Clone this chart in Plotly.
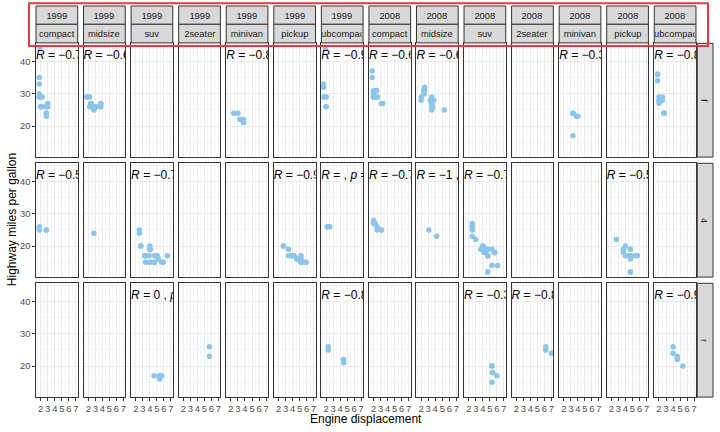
import plotly.graph_objects as go

# ---------------- data ----------------
col_years = ["1999"] * 7 + ["2008"] * 7
col_classes = ["compact", "midsize", "suv", "2seater", "minivan", "pickup", "subcompact"] * 2
row_drvs = ["f", "4", "r"]

facet_year = ["1999", "1999", "1999", "1999", "2008", "2008", "2008", "2008",
              "1999", "1999", "1999", "1999", "1999", "2008", "2008", "2008", "2008",
              "1999", "1999", "1999", "2008", "2008", "2008"]
facet_class = ["compact", "midsize", "minivan", "subcompact", "compact", "midsize", "minivan", "subcompact",
               "compact", "midsize", "suv", "pickup", "subcompact", "compact", "midsize", "suv", "pickup",
               "suv", "2seater", "subcompact", "suv", "2seater", "subcompact"]
facet_drv = ["f"] * 8 + ["4"] * 9 + ["r"] * 6

facet_displ = [
    [1.8, 1.8, 2.8, 2.8, 2.2, 2.2, 3.0, 3.0, 1.8, 1.8, 1.8, 2.0, 2.0, 2.8, 1.9, 2.0, 2.0, 2.8, 2.8],
    [1.8, 1.8, 2.2, 2.2, 2.4, 2.4, 2.4, 2.4, 2.5, 2.5, 2.8, 2.8, 3.0, 3.0, 3.0, 3.0, 3.1, 3.1, 3.8, 3.8],
    [2.4, 3.0, 3.3, 3.3, 3.8, 3.8],
    [1.6, 1.6, 1.6, 1.6, 1.6, 2.0, 2.0, 1.9, 2.0, 2.0],
    [2.0, 2.0, 3.1, 2.4, 2.4, 3.3, 1.8, 1.8, 2.0, 2.0, 2.0, 2.0, 2.5, 2.5],
    [2.4, 3.5, 3.6, 2.4, 2.4, 3.3, 2.5, 2.5, 3.5, 3.5, 3.5, 3.8, 5.3, 2.4, 2.4, 3.5, 2.0, 2.0, 3.6],
    [3.3, 3.3, 3.3, 3.8, 4.0],
    [1.8, 1.8, 1.8, 2.0, 2.0, 2.0, 2.7, 2.7, 2.7, 2.5, 2.5],
    [1.8, 1.8, 2.8, 2.8],
    [2.8],
    [5.7, 6.5, 3.9, 5.2, 5.9, 4.0, 4.0, 4.0, 5.0, 4.0, 4.7, 4.0, 4.6, 4.0, 5.0, 3.3, 3.3,
     2.5, 2.5, 2.7, 2.7, 3.4, 3.4, 4.7],
    [3.9, 3.9, 5.2, 5.2, 5.2, 5.2, 5.9, 5.9, 4.2, 4.2, 4.6, 4.6, 5.4, 2.7, 2.7, 3.4, 3.4],
    [2.2, 2.2, 2.5, 2.5],
    [2.0, 2.0, 2.2, 2.5, 2.5, 3.1, 3.1],
    [3.1, 4.2],
    [5.3, 5.3, 4.7, 4.7, 4.7, 5.7, 4.0, 4.6, 3.0, 3.7, 4.7, 4.7, 5.7, 6.1, 4.2, 4.4, 4.0, 4.6,
     4.0, 5.6, 2.5, 2.5, 2.5, 2.5, 2.5, 4.0, 4.7, 5.7],
    [3.7, 3.7, 4.7, 4.7, 4.7, 4.7, 4.7, 4.7, 4.7, 4.7, 5.7, 4.6, 5.4, 2.7, 4.0, 4.0],
    [5.7, 4.6, 5.4, 5.4, 5.4],
    [5.7, 5.7],
    [2.3, 2.3, 4.5, 4.5],
    [5.3, 5.3, 5.3, 6.0, 5.4, 5.4],
    [6.2, 6.2, 7.0],
    [4.0, 4.0, 4.6, 4.6, 5.4],
]
facet_hwy = [
    [29, 29, 26, 26, 26, 29, 26, 27, 30, 33, 35, 29, 26, 24, 44, 29, 26, 23, 24],
    [29, 29, 29, 26, 27, 27, 26, 27, 26, 26, 26, 25, 26, 26, 26, 26, 26, 26, 26, 27],
    [24, 24, 22, 22, 22, 21],
    [33, 32, 32, 29, 32, 26, 29, 44, 29, 26],
    [31, 30, 27, 31, 31, 27, 37, 35, 29, 29, 29, 29, 29, 29],
    [30, 29, 26, 30, 31, 28, 31, 32, 27, 26, 25, 28, 25, 31, 31, 28, 28, 29, 26],
    [24, 24, 17, 23, 23],
    [34, 36, 36, 29, 28, 27, 24, 24, 24, 28, 29],
    [26, 25, 25, 25],
    [24],
    [15, 17, 17, 16, 15, 19, 19, 19, 17, 20, 17, 15, 15, 19, 17, 17, 17, 25, 24, 20, 20, 15, 17, 15],
    [17, 17, 15, 17, 16, 15, 15, 15, 17, 17, 16, 16, 15, 20, 20, 19, 17],
    [26, 26, 26, 26],
    [28, 27, 27, 25, 26, 25, 25],
    [25, 23],
    [19, 14, 17, 12, 17, 18, 19, 19, 22, 19, 12, 19, 18, 14, 18, 18, 19, 19, 20, 18,
     26, 26, 25, 27, 23, 20, 17, 18],
    [19, 18, 19, 19, 12, 17, 16, 12, 17, 17, 17, 17, 17, 22, 20, 17],
    [17, 17, 17, 17, 16],
    [26, 23],
    [26, 25, 22, 21],
    [20, 15, 20, 17, 18, 18],
    [26, 25, 24],
    [26, 24, 23, 22, 20],
]

cor_labels_f = ["R = −0.73, p = 4.3e-06", "R = −0.62, p = 0.0035", "", "", "R = −0.85, p = 0.031", "",
                "R = −0.9, p = 0.00016", "R = −0.66, p = 0.01", "R = −0.63, p = 0.0043", "", "",
                "R = −0.31, p = 0.61", "", "R = −0.82, p = 0.0021"]
cor_labels_4 = ["R = −0.58, p = 0.42", "", "R = −0.73, p = 6e-05", "", "", "R = −0.93, p = 7.1e-08",
                "R = , p = ", "R = −0.75, p = 0.051", "R = −1 , p = ", "R = −0.78, p = 1e-06", "", "",
                "R = −0.57, p = 0.021", ""]
cor_labels_r = ["", "", "R = 0 , p = 1", "", "", "", "R = −0.89, p = 0.11", "", "",
                "R = −0.32, p = 0.54", "R = −0.87, p = 0.33", "", "", "R = −0.96, p = 0.0099"]
cor_labels = {"f": cor_labels_f, "4": cor_labels_4, "r": cor_labels_r}

# ---------------- layout geometry ----------------
W, H = 720, 432
COL_LEFT, COL_PITCH, COL_W = 36.0, 47.56, 41.7
ROW_TOP, ROW_PITCH, ROW_H = 43.3, 120.0, 113.8
XR = [1.33, 7.27]
YR = [10.4, 45.6]
FONT = "Liberation Sans, Arial, sans-serif"
POINT = "#8CC5E8"
BORDER = "#333333"


def px(x):
    return x / W


def py(y):
    return 1 - y / H


fig = go.Figure()
layout = dict(
    width=W, height=H, margin=dict(l=0, r=0, t=0, b=0),
    paper_bgcolor="white", plot_bgcolor="white", showlegend=False,
    font=dict(family=FONT, color="#1A1A1A"),
    shapes=[], annotations=[],
)

for r, drv in enumerate(row_drvs):
    for c in range(14):
        k = r * 14 + c + 1
        sfx = "" if k == 1 else str(k)
        L = COL_LEFT + c * COL_PITCH
        T = ROW_TOP + r * ROW_PITCH
        layout["xaxis" + sfx] = dict(
            domain=[px(L), px(L + COL_W)], anchor="y" + sfx, range=XR,
            tick0=0, dtick=1, showgrid=True, gridcolor="#EBEBEB", gridwidth=0.8,
            minor=dict(dtick=0.5, tick0=0, showgrid=True, gridcolor="#F5F5F5", gridwidth=0.5),
            zeroline=False, showline=True, mirror=True, linecolor=BORDER, linewidth=1,
            ticks="outside" if r == 2 else "", ticklen=2.7, tickwidth=1, tickcolor=BORDER,
            showticklabels=(r == 2), tickangle=0,
            tickfont=dict(size=9.4, color="#4D4D4D", family=FONT),
            fixedrange=True,
        )
        layout["yaxis" + sfx] = dict(
            domain=[py(T + ROW_H), py(T)], anchor="x" + sfx, range=YR,
            tick0=0, dtick=10, showgrid=True, gridcolor="#EBEBEB", gridwidth=0.8,
            minor=dict(dtick=5, tick0=0, showgrid=True, gridcolor="#F5F5F5", gridwidth=0.5),
            zeroline=False, showline=True, mirror=True, linecolor=BORDER, linewidth=1,
            ticks="outside" if c == 0 else "", ticklen=2.7, tickwidth=1, tickcolor=BORDER,
            showticklabels=(c == 0), tickfont=dict(size=9.4, color="#4D4D4D", family=FONT),
            fixedrange=True,
        )
        # placeholder so that every panel is drawn, even if empty
        fig.add_trace(go.Scatter(x=[None], y=[None], mode="markers", xaxis="x" + sfx,
                                 yaxis="y" + sfx, hoverinfo="skip"))
        # points of this facet
        for i in range(len(facet_year)):
            if facet_year[i] == col_years[c] and facet_class[i] == col_classes[c] and facet_drv[i] == drv:
                fig.add_trace(go.Scatter(
                    x=facet_displ[i], y=facet_hwy[i], mode="markers",
                    marker=dict(color=POINT, size=5.5, line=dict(width=0)),
                    xaxis="x" + sfx, yaxis="y" + sfx, hoverinfo="skip",
                ))
        lab = cor_labels[drv][c]
        if lab:
            txt = lab.replace("R =", "<i>R</i> =").replace("p =", "<i>p</i> =")
            fig.add_trace(go.Scatter(
                x=[XR[0]], y=[41.6], mode="text", text=[txt], textposition="middle right",
                textfont=dict(size=12, color="black", family=FONT), cliponaxis=True,
                xaxis="x" + sfx, yaxis="y" + sfx, hoverinfo="skip",
            ))

# top strips (year and class)
for c in range(14):
    L = COL_LEFT + c * COL_PITCH
    for (y0, y1, text) in [(6.0, 24.3, col_years[c]), (24.3, 42.9, col_classes[c])]:
        layout["shapes"].append(dict(
            type="rect", xref="paper", yref="paper", x0=px(L), x1=px(L + COL_W),
            y0=py(y1), y1=py(y0), fillcolor="#D9D9D9", line=dict(color=BORDER, width=1), layer="above",
        ))
        layout["annotations"].append(dict(
            xref="paper", yref="paper", x=px(L + COL_W / 2), y=py((y0 + y1) / 2),
            text=text, showarrow=False, width=COL_W - 2, align="center",
            xanchor="center", yanchor="middle",
            font=dict(size=9.4, color="#1A1A1A", family=FONT),
        ))

# right strips (drv)
SX0 = COL_LEFT + 13 * COL_PITCH + COL_W + 1.3
SX1 = 713.0
for r, drv in enumerate(row_drvs):
    T = ROW_TOP + r * ROW_PITCH
    layout["shapes"].append(dict(
        type="rect", xref="paper", yref="paper", x0=px(SX0), x1=px(SX1),
        y0=py(T + ROW_H), y1=py(T), fillcolor="#D9D9D9", line=dict(color=BORDER, width=1), layer="above",
    ))
    layout["annotations"].append(dict(
        xref="paper", yref="paper", x=px((SX0 + SX1) / 2), y=py(T + ROW_H / 2),
        text=drv, showarrow=False, textangle=90, xanchor="center", yanchor="middle",
        font=dict(size=9.4, color="#1A1A1A", family=FONT),
    ))

# axis titles
layout["annotations"].append(dict(
    xref="paper", yref="paper", x=px(12), y=py((ROW_TOP + ROW_TOP + 2 * ROW_PITCH + ROW_H) / 2),
    text="Highway miles per gallon", showarrow=False, textangle=-90,
    xanchor="center", yanchor="middle", font=dict(size=12, color="black", family=FONT),
))
layout["annotations"].append(dict(
    xref="paper", yref="paper", x=px((COL_LEFT + COL_LEFT + 13 * COL_PITCH + COL_W) / 2), y=py(419),
    text="Engine displacement", showarrow=False, xanchor="center", yanchor="middle",
    font=dict(size=12, color="black", family=FONT),
))

# red highlight box around the top strips
layout["shapes"].append(dict(
    type="rect", xref="paper", yref="paper", x0=px(29), x1=px(708), y0=py(46), y1=py(3.3),
    line=dict(color="#E23B44", width=2), fillcolor="rgba(0,0,0,0)", layer="above",
))

fig.update_layout(**layout)
fig.write_html("out.html")
